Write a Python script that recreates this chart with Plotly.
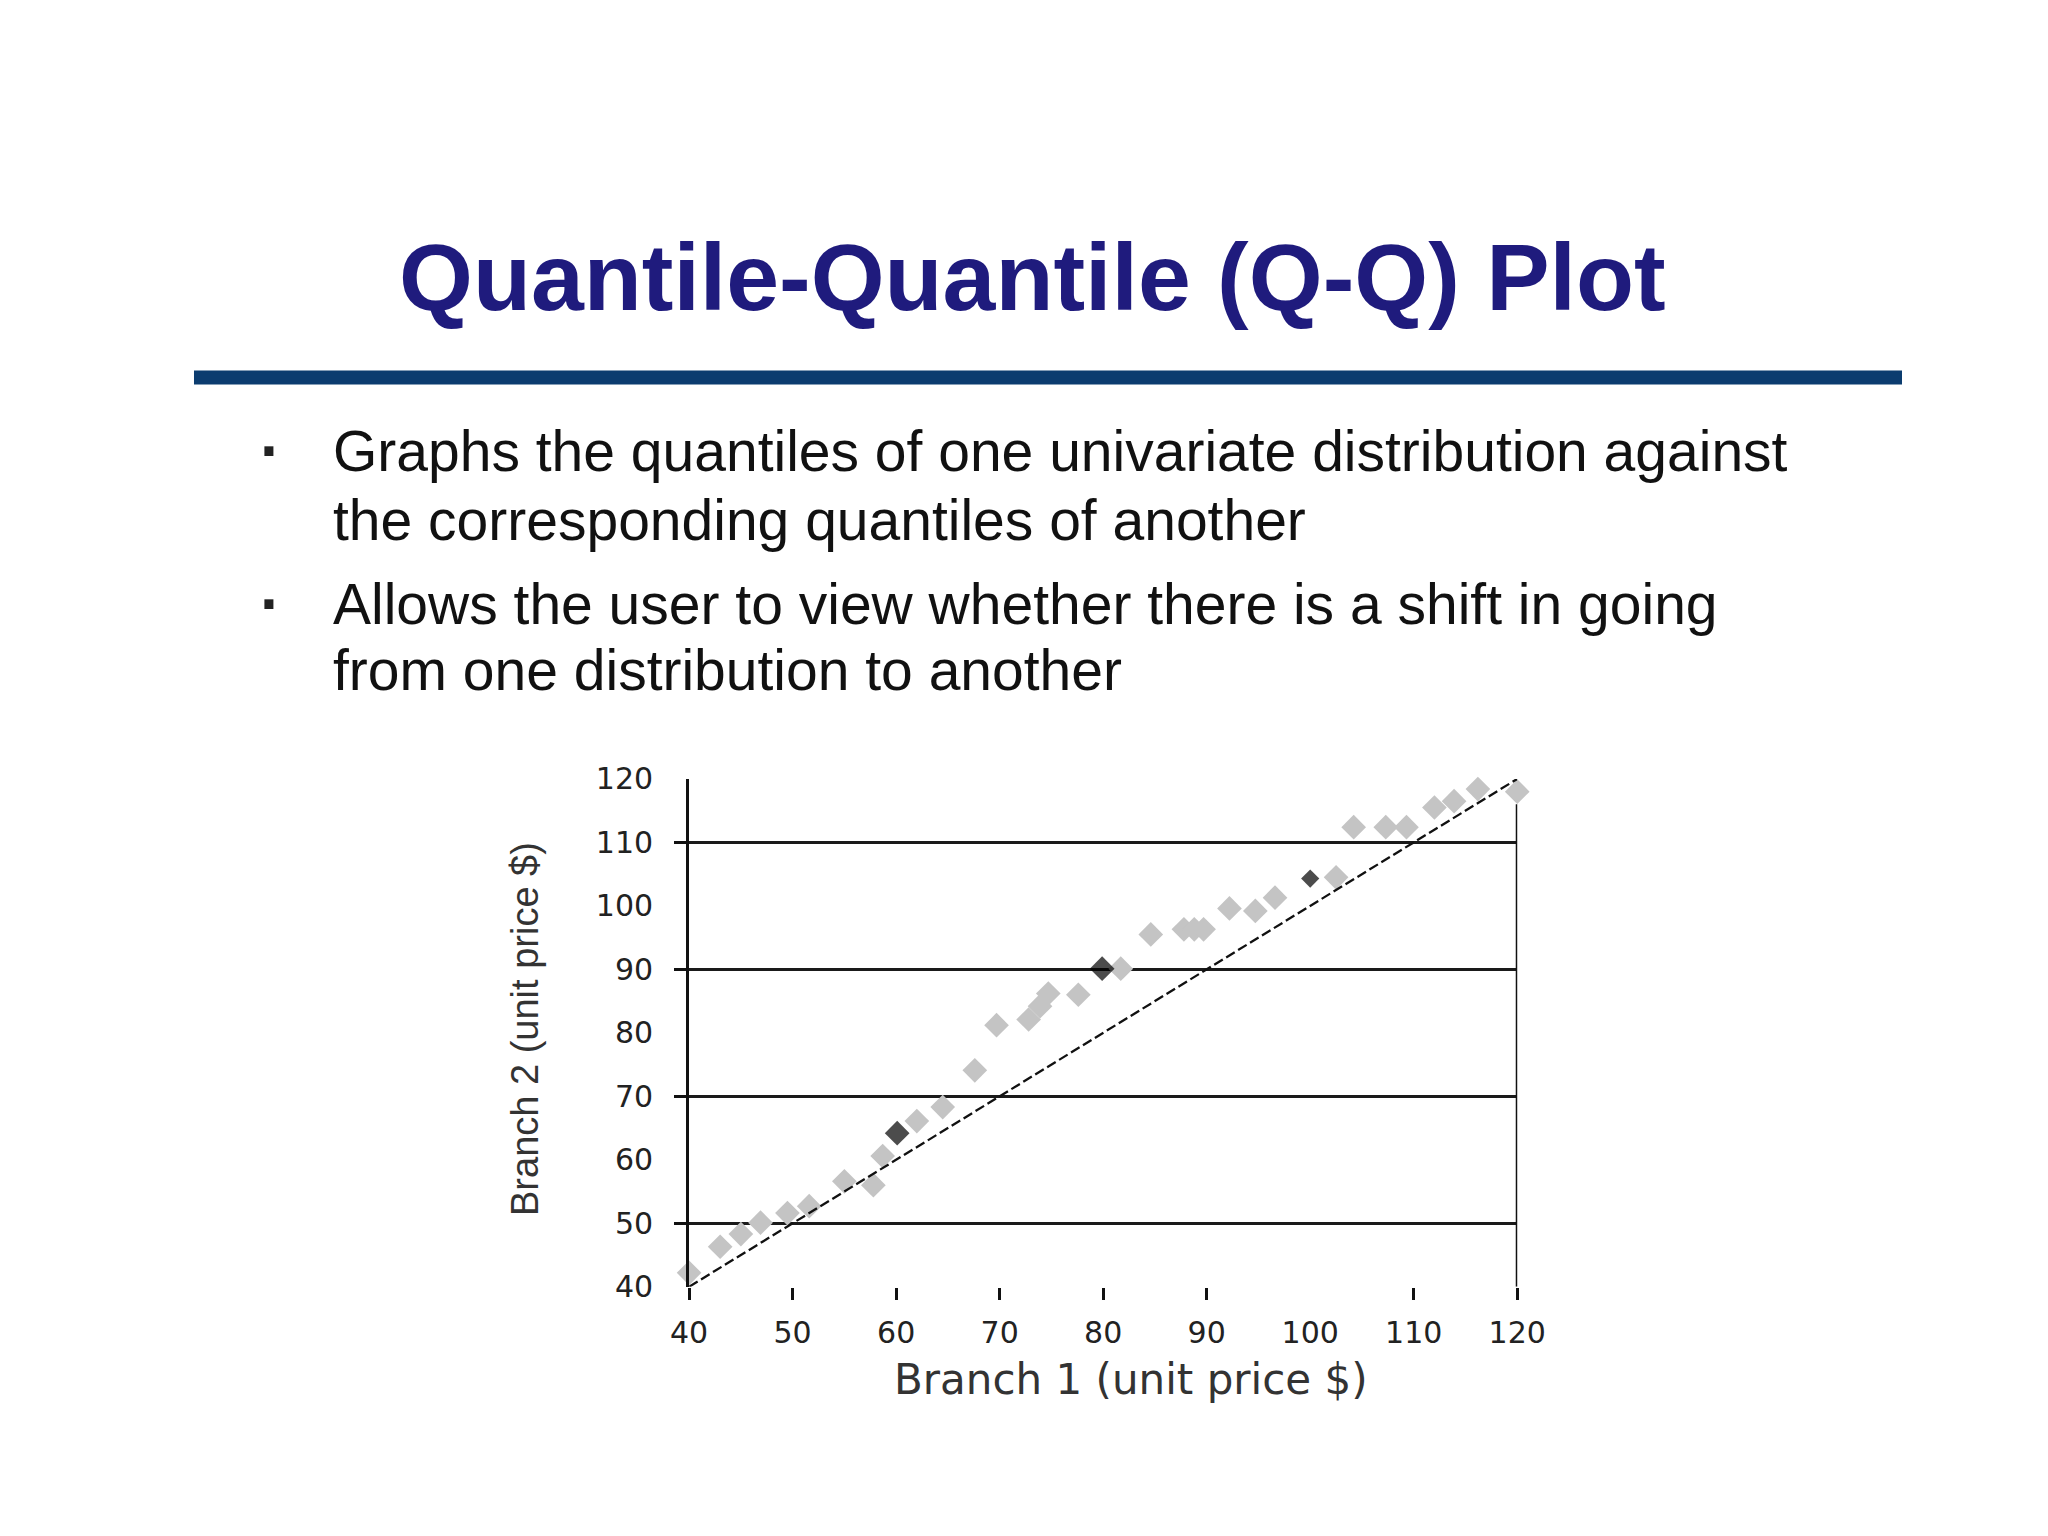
import plotly.graph_objects as go

# ---------------- data ----------------
branch1_gray = [40.0, 43.0, 45.0, 46.9, 49.5, 51.6, 55.0, 57.8, 58.7, 62.0, 64.5,
                67.6, 69.7, 72.8, 73.9, 74.7, 77.6, 81.7, 84.6, 87.8, 88.8, 89.7,
                92.2, 94.7, 96.6, 102.5, 104.2, 107.3, 109.3, 112.0, 113.9, 116.2, 120.0]
branch2_gray = [42.2, 46.3, 48.3, 50.1, 51.6, 52.7, 56.6, 56.0, 60.6, 66.1, 68.3,
                74.1, 81.2, 82.1, 84.2, 86.2, 86.0, 90.1, 95.5, 96.3, 96.3, 96.3,
                99.6, 99.2, 101.3, 104.5, 112.4, 112.4, 112.4, 115.5, 116.5, 118.4, 118.0]
branch1_black = [60.1, 79.9, 100.0]
branch2_black = [64.2, 90.1, 104.3]
ref_x = [40, 120]
ref_y = [40, 120]

tick_vals = [40, 50, 60, 70, 80, 90, 100, 110, 120]
tick_text = ["40", "50", "60", "70", "80", "90", "100", "110", "120"]
x_tick_marks = [40, 50, 60, 70, 80, 90, 110, 120]
y_grid_vals = [50, 70, 90, 110]
axis_range = [40, 120]
right_frame_top = 116

title_text = "Quantile-Quantile (Q-Q) Plot"
bullet_lines = [
    "Graphs the quantiles of one univariate distribution against",
    "the corresponding quantiles of another",
    "Allows the user to view whether there is a shift in going",
    "from one distribution to another",
]
x_title = "Branch 1 (unit price $)"
y_title = "Branch 2 (unit price $)"

# ---------------- layout helpers ----------------
W, H = 2048, 1536
def px(x):
    return x / W
def py(y):
    return 1 - y / H

X_DOM = [px(678), px(1526)]
Y_DOM = [py(1291), py(771)]

fig = go.Figure()

fig.add_trace(go.Scatter(
    x=branch1_gray, y=branch2_gray, mode="markers",
    marker=dict(symbol="diamond", size=19, color="#c4c4c4", line=dict(width=0)),
    cliponaxis=False, showlegend=False, hoverinfo="x+y"))
fig.add_trace(go.Scatter(
    x=branch1_black, y=branch2_black, mode="markers",
    marker=dict(symbol="diamond", size=[19, 19, 14], color="#000000", line=dict(width=0)),
    cliponaxis=False, showlegend=False, hoverinfo="x+y"))
fig.add_trace(go.Scatter(
    x=ref_x, y=ref_y, mode="lines", xaxis="x2", yaxis="y2",
    line=dict(color="#111111", width=2.3, dash="10px,4px"),
    cliponaxis=False, showlegend=False, hoverinfo="skip"))

tick_font = dict(family="DejaVu Sans", size=30, color="#222222")

fig.update_layout(
    width=W, height=H, autosize=False,
    margin=dict(l=0, r=0, t=0, b=0),
    paper_bgcolor="white", plot_bgcolor="white",
    showlegend=False,
    xaxis=dict(domain=X_DOM, range=axis_range, tickmode="array",
               tickvals=tick_vals, ticktext=tick_text, ticks="",
               showgrid=False, showline=False, zeroline=False,
               tickfont=tick_font, ticklabelstandoff=25, anchor="y"),
    yaxis=dict(domain=Y_DOM, range=axis_range, tickmode="array",
               tickvals=tick_vals, ticktext=tick_text, ticks="",
               showgrid=False, showline=True, linecolor="#111111", linewidth=3,
               zeroline=False, tickfont=tick_font, ticklabelstandoff=27, anchor="x"),
    xaxis2=dict(domain=X_DOM, range=axis_range, overlaying="x", anchor="y2",
                tickmode="array", tickvals=x_tick_marks, ticks="outside",
                ticklen=12, tickwidth=3, tickcolor="#111111",
                showticklabels=False, showgrid=False, showline=False, zeroline=False),
    yaxis2=dict(domain=Y_DOM, range=axis_range, overlaying="y", anchor="x2",
                tickmode="array", tickvals=y_grid_vals, ticks="outside",
                ticklen=14, tickwidth=3, tickcolor="#111111",
                showticklabels=False, showgrid=True, gridcolor="#1a1a1a", gridwidth=3,
                showline=False, zeroline=False),
)

# right frame line at x = 120
fig.add_shape(type="line", xref="x", yref="y",
              x0=axis_range[1], x1=axis_range[1], y0=axis_range[0], y1=right_frame_top,
              line=dict(color="#111111", width=3))

# blue rule under the title
fig.add_shape(type="line", xref="paper", yref="paper",
              x0=px(171), x1=px(1920), y0=py(360), y1=py(360),
              line=dict(color="#0b3c6f", width=14))

# title
fig.add_annotation(text=title_text, xref="paper", yref="paper",
                   x=px(1030), y=py(257), xanchor="center", yanchor="middle",
                   showarrow=False,
                   font=dict(family="Liberation Sans", size=95, color="#1f1b7d", weight="bold"))

# bullets
line_y = [435, 506, 592, 659]
for txt, yy in zip(bullet_lines, line_y):
    fig.add_annotation(text=txt, xref="paper", yref="paper",
                       x=px(311), y=py(yy), xanchor="left", yanchor="middle",
                       showarrow=False,
                       font=dict(family="Liberation Sans", size=57, color="#111111"))
for yy in [line_y[0], line_y[2]]:
    fig.add_annotation(text="·", xref="paper", yref="paper",
                       x=px(249), y=py(yy), xanchor="center", yanchor="middle",
                       showarrow=False,
                       font=dict(family="Liberation Sans", size=64, color="#222222",
                                 weight="bold"))

# axis titles
fig.add_annotation(text=x_title, xref="paper", yref="paper",
                   x=px(1130), y=py(1386), xanchor="center", yanchor="middle",
                   showarrow=False,
                   font=dict(family="DejaVu Sans", size=42, color="#333333"))
fig.add_annotation(text=y_title, xref="paper", yref="paper",
                   x=px(510), y=py(1027), xanchor="center", yanchor="middle",
                   textangle=-90, showarrow=False,
                   font=dict(family="Liberation Sans", size=38, color="#333333"))

fig.write_html("out.html")
